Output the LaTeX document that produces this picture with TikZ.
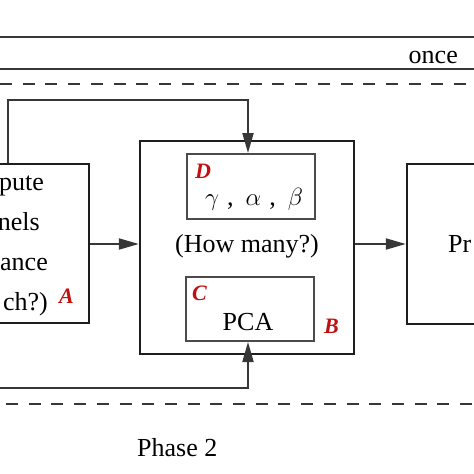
\documentclass[tikz,border=0pt]{standalone}
\usepackage{fontspec}
\setmainfont{Liberation Serif}
\usetikzlibrary{arrows.meta}
\definecolor{lbl}{RGB}{192,16,16}
\definecolor{ln}{RGB}{55,55,55}
\definecolor{bx}{RGB}{30,30,30}
\tikzset{
  bigbox/.style={draw=bx,line width=2.4pt,rectangle,inner sep=0,minimum width=#1},
  smallbox/.style={draw=bx!80!white,line width=2pt,rectangle,inner sep=0},
  txt/.style={inner sep=0,font=\fontsize{26}{30}\selectfont},
  lab/.style={inner sep=0,text=lbl,font=\fontsize{22}{26}\selectfont\bfseries\itshape,anchor=base west},
  conn/.style={draw=ln,line width=2pt},
  arr/.style={conn,-{Triangle[length=20pt,width=11pt]}},
  sep/.style={draw=ln,line width=2.6pt,dash pattern=on 12pt off 10.7pt},
  rule/.style={draw=ln,line width=2pt}
}
\begin{document}
\begin{tikzpicture}[x=1pt,y=-1pt]
\clip (0,0) rectangle (474,474);
\fill[white] (0,0) rectangle (474,474);
% top rules
\coordinate (r1l) at (0,37); \coordinate (r1r) at (474,37);
\coordinate (r2l) at (0,69); \coordinate (r2r) at (474,69);
\draw[rule] (r1l) -- (r1r);
\draw[rule] (r2l) -- (r2r);
\node[txt,anchor=base east] (once) at (458,63) {once};
% dashed separators
\coordinate (d1l) at (0,84); \coordinate (d1r) at (474,84);
\coordinate (d2l) at (6,404); \coordinate (d2r) at (474,404);
\draw[sep] (d1l) -- (d1r);
\draw[sep] (d2l) -- (d2r);
% boxes
\node[bigbox=149pt,minimum height=159pt] (A) at (14.5,243.5) {};
\node[bigbox=214pt,minimum height=213pt] (B) at (247,247.5) {};
\node[bigbox=123pt,minimum height=160pt] (P) at (468.5,244) {};
\node[smallbox,minimum width=128pt,minimum height=65pt] (D) at (251,186.5) {};
\node[smallbox,minimum width=128pt,minimum height=64pt] (C) at (250,309) {};
% texts of A
\node[txt,anchor=base east] (a1) at (44,190) {pute};
\node[txt,anchor=base east] (a2) at (40,230) {nels};
\node[txt,anchor=base east] (a3) at (48,270) {ance};
\node[txt,anchor=base east] (a4) at (48,310) {ch?)};
\node[lab] (la) at (59,303) {A};
% texts of B
\node[txt,anchor=base,font=\fontsize{30}{34}\selectfont] (greek) at (254,205) {$\gamma$\hspace{8pt}{\fontsize{26}{30}\selectfont,}\hspace{12pt}$\alpha$\hspace{8pt}{\fontsize{26}{30}\selectfont,}\hspace{12pt}$\beta$};
\node[lab] (ld) at (195,178) {D};
\node[txt,anchor=base] (many) at (247,252) {(How many?)};
\node[lab] (lc) at (192,300) {C};
\node[txt,anchor=base] (pca) at (248,330) {PCA};
\node[lab] (lb) at (324,333) {B};
% text of P
\node[txt,anchor=base west] (pr) at (448,252) {Pr};
% phase label
\node[txt,anchor=base west] (phase) at (137,456) {Phase 2};
% connectors
\draw[arr] (A.east |- 0,244) -- (B.west |- 0,244);
\draw[arr] (B.east |- 0,244) -- (P.west |- 0,244);
\coordinate (t1) at (8,100);
\coordinate (t2) at (248,100);
\draw[arr] (t1 |- A.north) -- (t1) -- (t2) -- (t2 |- D.north);
\coordinate (b0) at (0,388);
\coordinate (b1) at (248,388);
\draw[arr] (b0) -- (b1) -- (b1 |- C.south);
\end{tikzpicture}
\end{document}
